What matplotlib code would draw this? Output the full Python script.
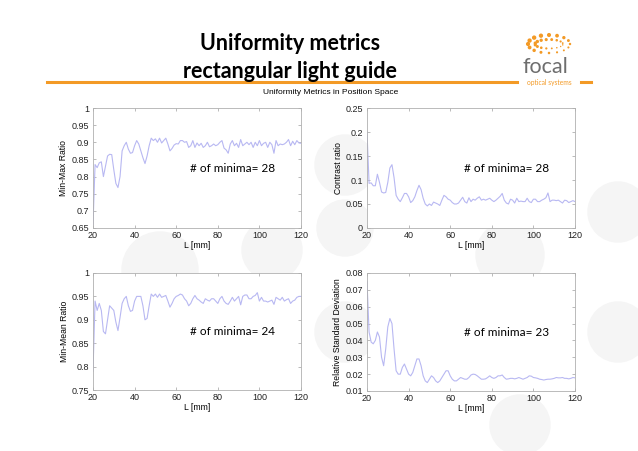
import numpy as np
import matplotlib
matplotlib.use('Agg')
import matplotlib.pyplot as plt
from matplotlib.patches import Ellipse

W, H = 638, 451

# abscissa: light guide length, mm
L = np.arange(20, 121)

minmax = [0.66, 0.835, 0.826, 0.84, 0.843, 0.80, 0.83, 0.86, 0.865, 0.864,
          0.82, 0.78, 0.768, 0.80, 0.875, 0.89, 0.90, 0.88, 0.868, 0.87,
          0.89, 0.905, 0.895, 0.875, 0.855, 0.838, 0.86, 0.89, 0.912, 0.905,
          0.91, 0.90, 0.912, 0.898, 0.905, 0.912, 0.895, 0.875, 0.882, 0.892,
          0.896, 0.895, 0.905, 0.905, 0.90, 0.902, 0.885, 0.89, 0.905, 0.885,
          0.898, 0.89, 0.897, 0.885, 0.89, 0.90, 0.887, 0.89, 0.895, 0.89,
          0.893, 0.90, 0.905, 0.883, 0.878, 0.868, 0.895, 0.905, 0.89, 0.897,
          0.885, 0.908, 0.89, 0.895, 0.90, 0.893, 0.90, 0.885, 0.90, 0.89,
          0.905, 0.89, 0.897, 0.90, 0.885, 0.90, 0.893, 0.868, 0.905, 0.89,
          0.895, 0.893, 0.895, 0.90, 0.908, 0.89, 0.903, 0.893, 0.905, 0.898,
          0.897]

contrast = [0.20, 0.093, 0.094, 0.088, 0.088, 0.112, 0.095, 0.075, 0.073, 0.074,
            0.095, 0.125, 0.132, 0.105, 0.068, 0.060, 0.055, 0.063, 0.072, 0.072,
            0.065, 0.053, 0.057, 0.065, 0.078, 0.089, 0.080, 0.062, 0.050, 0.046,
            0.050, 0.047, 0.054, 0.052, 0.050, 0.047, 0.058, 0.068, 0.065, 0.060,
            0.058, 0.053, 0.050, 0.050, 0.052, 0.058, 0.064, 0.055, 0.052, 0.063,
            0.055, 0.060, 0.058, 0.062, 0.065, 0.058, 0.060, 0.058, 0.060, 0.062,
            0.058, 0.055, 0.058, 0.062, 0.066, 0.072, 0.058, 0.052, 0.050, 0.060,
            0.058, 0.052, 0.062, 0.055, 0.056, 0.055, 0.055, 0.062, 0.055, 0.053,
            0.060, 0.060, 0.055, 0.055, 0.058, 0.060, 0.063, 0.073, 0.055, 0.058,
            0.058, 0.057, 0.058, 0.055, 0.052, 0.058, 0.057, 0.053, 0.055, 0.057,
            0.055]

minmean = [0.79, 0.94, 0.92, 0.935, 0.92, 0.875, 0.87, 0.90, 0.93, 0.925,
           0.92, 0.895, 0.877, 0.905, 0.935, 0.945, 0.95, 0.93, 0.918, 0.92,
           0.94, 0.95, 0.95, 0.95, 0.93, 0.90, 0.903, 0.93, 0.955, 0.95,
           0.955, 0.948, 0.955, 0.948, 0.95, 0.952, 0.94, 0.927, 0.935, 0.945,
           0.95, 0.952, 0.955, 0.953, 0.945, 0.94, 0.93, 0.935, 0.945, 0.952,
           0.945, 0.942, 0.938, 0.935, 0.945, 0.942, 0.94, 0.945, 0.945, 0.94,
           0.935, 0.945, 0.95, 0.94, 0.935, 0.933, 0.94, 0.948, 0.94, 0.945,
           0.95, 0.932, 0.95, 0.953, 0.953, 0.945, 0.945, 0.95, 0.952, 0.958,
           0.94, 0.948, 0.94, 0.94, 0.938, 0.94, 0.942, 0.933, 0.948, 0.945,
           0.942, 0.948, 0.94, 0.943, 0.945, 0.935, 0.94, 0.942, 0.948, 0.95,
           0.95]

relstd = [0.075, 0.045, 0.039, 0.038, 0.040, 0.045, 0.042, 0.030, 0.025, 0.035,
          0.048, 0.053, 0.050, 0.035, 0.022, 0.020, 0.020, 0.024, 0.026, 0.023,
          0.020, 0.019, 0.021, 0.025, 0.029, 0.029, 0.025, 0.019, 0.016, 0.015,
          0.017, 0.019, 0.018, 0.016, 0.015, 0.016, 0.018, 0.020, 0.022, 0.022,
          0.019, 0.017, 0.016, 0.016, 0.017, 0.018, 0.0175, 0.017, 0.017, 0.018,
          0.0195, 0.020, 0.0198, 0.019, 0.018, 0.017, 0.017, 0.0172, 0.018, 0.019,
          0.018, 0.0175, 0.018, 0.019, 0.019, 0.0195, 0.018, 0.017, 0.0172, 0.0175,
          0.0175, 0.0172, 0.0175, 0.018, 0.0175, 0.017, 0.0175, 0.018, 0.019, 0.0188,
          0.018, 0.0178, 0.0175, 0.017, 0.0168, 0.0165, 0.0168, 0.017, 0.017, 0.0172,
          0.0175, 0.018, 0.0178, 0.0178, 0.018, 0.0175, 0.0175, 0.0172, 0.0175, 0.018,
          0.0178]

panels = [
    # (values, ylabel, ylim, yticks, yticklabels, minima, box in pixels l, r, t, b)
    (minmax, 'Min-Max Ratio', (0.65, 1.0), np.arange(0.65, 1.001, 0.05),
     ['0.65', '0.7', '0.75', '0.8', '0.85', '0.9', '0.95', '1'], 28, (93, 301, 108, 228)),
    (contrast, 'Contrast ratio', (0.0, 0.25), np.arange(0, 0.251, 0.05),
     ['0', '0.05', '0.1', '0.15', '0.2', '0.25'], 28, (367, 575, 108, 228)),
    (minmean, 'Min-Mean Ratio', (0.75, 1.0), np.arange(0.75, 1.001, 0.05),
     ['0.75', '0.8', '0.85', '0.9', '0.95', '1'], 24, (93, 301, 273, 390)),
    (relstd, 'Relative Standard Deviation', (0.01, 0.08), np.arange(0.01, 0.0801, 0.01),
     ['0.01', '0.02', '0.03', '0.04', '0.05', '0.06', '0.07', '0.08'], 23, (367, 575, 273, 391)),
]

line_col = '#b8b8f2'
orange = '#f39a26'

fig = plt.figure(figsize=(W / 100, H / 100), dpi=100)
fig.patch.set_facecolor('white')


def fx(px):
    return px / W


def fy(py):
    return 1 - py / H


# faint decorative circles behind the axes
for cx, cy, r in [(345, 165, 30), (345, 228, 28), (618, 212, 30), (618, 332, 30),
                  (345, 332, 30), (160, 270, 38), (510, 255, 34), (272, 250, 30),
                  (520, 425, 30)]:
    fig.patches.append(Ellipse((fx(cx), fy(cy)), 2 * r / W, 2 * r / H,
                               transform=fig.transFigure, color='#f5f5f5', zorder=0))

# title
fig.text(fx(290), fy(44), 'Uniformity metrics', ha='center', va='center',
         fontsize=15.5, fontweight='bold', family='Lato')
fig.text(fx(290), fy(71), 'rectangular light guide', ha='center', va='center',
         fontsize=15.5, fontweight='bold', family='Lato')

# orange rule
fig.add_artist(plt.Line2D([fx(47), fx(517)], [fy(82), fy(82)], color=orange, lw=2.2,
                          transform=fig.transFigure))
fig.add_artist(plt.Line2D([fx(581), fx(591)], [fy(82), fy(82)], color=orange, lw=2.2,
                          transform=fig.transFigure))

# logo
fig.text(fx(545), fy(67), 'focal', ha='center', va='center', fontsize=15.5,
         color='#6e6e6e', family='Lato')
fig.text(fx(549), fy(82), 'optical systems', ha='center', va='center', fontsize=4.8,
         color=orange, family='Lato')
th = np.linspace(0, 2 * np.pi, 16, endpoint=False)
dx = np.concatenate([549 + 21 * np.cos(th), 549 + 14 * np.cos(th + 0.2)])
dy = np.concatenate([44 - 9 * np.sin(th), 44 - 4.5 * np.sin(th + 0.2)])
ds = np.concatenate([2 + 4 * (np.cos(th - 2.4) + 1), 1 + 2.5 * (np.cos(th - 2.4) + 1)])
logo_ax = fig.add_axes([0, 0, 1, 1], zorder=1)
logo_ax.set_xlim(0, W)
logo_ax.set_ylim(H, 0)
logo_ax.axis('off')
logo_ax.scatter(dx, dy, s=ds, color=orange, lw=0)

fig.text(fx(331), fy(93), 'Uniformity Metrics in Position Space', ha='center', va='center',
         fontsize=6, family='Liberation Sans')

for vals, ylab, ylim, yt, ytl, nmin, (l, r, tp, b) in panels:
    ax = fig.add_axes([fx(l), fy(b), (r - l) / W, (b - tp) / H], zorder=2)
    ax.plot(L, vals, color=line_col, lw=0.8)
    ax.set_xlim(20, 120)
    ax.set_ylim(*ylim)
    ax.set_xticks(np.arange(20, 121, 20))
    ax.set_yticks(yt)
    ax.set_yticklabels(ytl)
    ax.tick_params(direction='in', length=2, width=0.5, color='#a0a0a0', top=True,
                   right=True, labelsize=6.5, labelcolor='#222222')
    ax.tick_params(axis='x', pad=2)
    ax.tick_params(axis='y', pad=3)
    for lab in ax.get_xticklabels() + ax.get_yticklabels():
        lab.set_family('Liberation Sans')
    for sp in ax.spines.values():
        sp.set_color('#b0b0b0')
        sp.set_linewidth(0.6)
    ax.set_xlabel('L [mm]', fontsize=6.2, family='Liberation Sans', labelpad=1)
    ax.set_ylabel(ylab, fontsize=6.2, family='Liberation Sans', labelpad=2)
    ax.text(0.67, 0.5, '# of minima= %d' % nmin, transform=ax.transAxes, ha='center',
            va='center', fontsize=8.5, family='Lato')

fig.savefig('out.png', dpi=100)
